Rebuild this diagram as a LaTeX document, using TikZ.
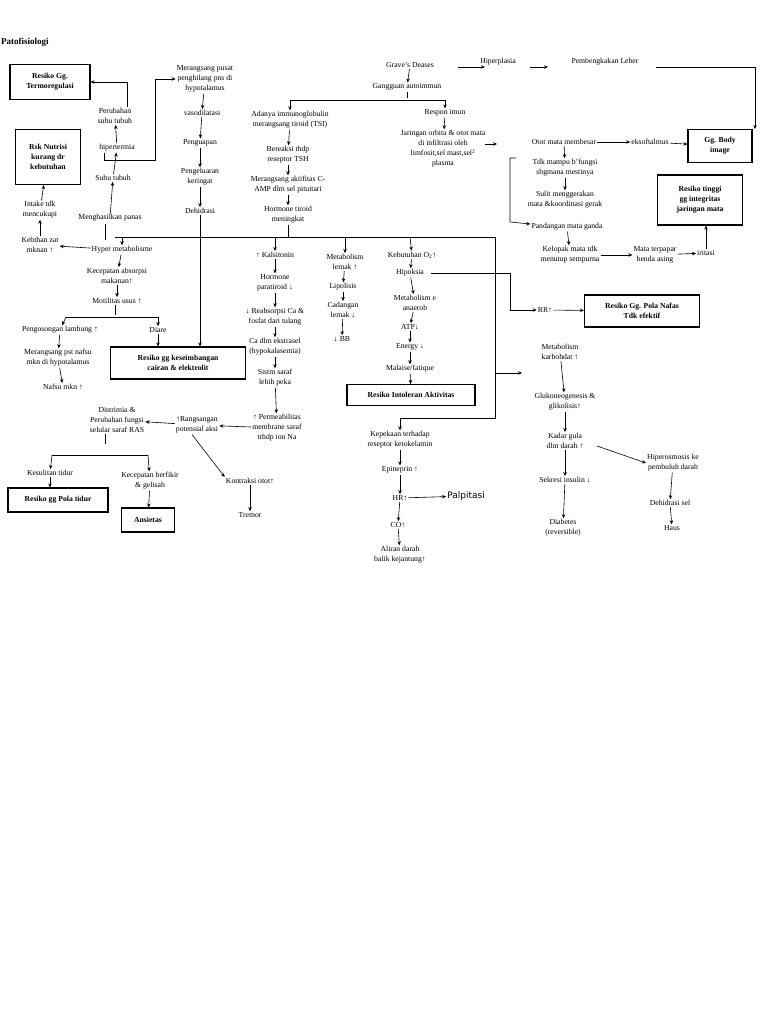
\documentclass[tikz,border=0pt]{standalone}
\usepackage{fontspec}
\setmainfont{Liberation Serif}
\newfontfamily\palfont{DejaVu Sans}
\usetikzlibrary{arrows.meta}
\begin{document}
\begin{tikzpicture}[x=1pt,y=-1pt,
  t/.style={font=\fontsize{7.7}{10}\selectfont, align=center, inner sep=1pt},
  bx/.style={t, draw, line width=1.1pt, font=\fontsize{7.7}{10}\selectfont\bfseries, inner sep=3pt},
  arr/.style={-{Stealth[length=4pt,width=3.5pt]}, line width=0.6pt},
  ln/.style={line width=0.6pt}]
\useasboundingbox (0,0) rectangle (768,1024);
\node[t, anchor=west, font=\fontsize{9}{10}\selectfont\bfseries] (title) at (0,42) {Patofisiologi};
% left column
\node[bx, minimum width=80pt, minimum height=35pt] (b1) at (50,82) {Resiko Gg.\\Termoregulasi};
\node[t] (perub) at (115,116) {Perubahan\\suhu tubuh};
\node[t] (hiper) at (117,148) {hipertermia};
\node[t] (suhu) at (113,178) {Suhu tubuh};
\node[t] (panas) at (110,218) {Menghasilkan panas};
\node[bx, minimum width=65pt, minimum height=55pt] (b2) at (48,157) {Rsk Nutrisi\\kurang dr\\kebutuhan};
\node[t] (intake) at (40,210) {Intake tdk\\mencukupi};
\node[t] (kebth) at (40,245) {Kebthan zat\\mknan ↑};
\node[t] (hmet) at (122,250) {Hyper metabolisme};
\node[t] (kecep) at (117,276) {Kecepatan absorpsi\\makanan↑};
\node[t] (motil) at (117,301) {Motilitas usus ↑};
\node[t] (pengos) at (60,330) {Pengosongan lambung ↑};
\node[t] (diare) at (158,330) {Diare};
\node[t] (mrgpst) at (58,358) {Merangsang pst nafsu\\mkn di hypotalamus};
\node[t] (nafsu) at (63,387) {Nafsu mkn ↑};
\node[bx, minimum width=135pt, minimum height=32pt] (b3) at (178,363) {Resiko gg keseimbangan\\cairan \& elektrolit};
% column 2
\node[t] (mpusat) at (205,79) {Merangsang pusat\\penghilang pns di\\hypotalamus};
\node[t] (vaso) at (202,113) {vasodilatasi};
\node[t] (pengu) at (200,143) {Penguapan};
\node[t] (pkeri) at (200,177) {Pengeluaran\\keringat};
\node[t] (dehid) at (200,211) {Dehidrasi};
% centre top
\node[t] (grave) at (410,65) {Grave's Deases};
\node[t] (hpl) at (498,62) {Hiperplasia};
\node[t] (leher) at (605,62) {Pembengkakan Leher};
\node[t] (gang) at (407,87) {Gangguan autoimmun};
\node[t] (adanya) at (290,120) {Adanya immunoglobulin\\merangsang tiroid (TSI)};
\node[t] (respon) at (445,113) {Respon imun};
\node[t] (jar) at (443,149) {Jaringan orbita \& otot mata\\di infiltrasi oleh\\limfosit,sel mast,sel\textsuperscript{2}\\plasma};
\node[t] (bereaksi) at (288,155) {Bereaksi thdp\\reseptor TSH};
\node[t] (camp) at (288,185) {Merangsang aktifitas C-\\AMP dlm sel pituitari};
\node[t] (horm) at (288,215) {Hormone tiroid\\meningkat};
% kalsitonin column
\node[t] (kals) at (275,255) {↑ Kalsitonin};
\node[t] (para) at (275,283) {Hormone\\paratiroid ↓};
\node[t] (reabs) at (275,317) {↓ Reabsorpsi Ca \&\\fosfat dari tulang};
\node[t] (ca) at (275,347) {Ca dlm ekstrasel\\(hypokalasemia)};
\node[t] (sistm) at (275,378) {Sistm saraf\\lebih peka};
\node[t] (perm) at (277,428) {↑ Permeabilitas\\membrane saraf\\trhdp ion Na};
\node[t] (rang) at (197,425) {↑Rangsangan\\potensial aksi};
\node[t] (distr) at (117,420) {Distrimia \&\\Perubahan fungsi\\selular saraf RAS};
\node[t] (kontr) at (250,481) {Kontraksi otot↑};
\node[t] (tremor) at (250,515) {Tremor};
\node[t] (kesul) at (50,473) {Kesulitan tidur};
\node[t] (berf) at (150,481) {Kecepatan berfikir\\\& gelisah};
\node[bx, minimum width=100pt, minimum height=24pt] (b4) at (58,500) {Resiko gg Pola tidur};
\node[bx, minimum width=53pt, minimum height=24pt] (b5) at (148,520) {Ansietas};
% lemak column
\node[t] (lemak) at (345,262) {Metabolism\\lemak ↑};
\node[t] (lipo) at (343,287) {Lipolisis};
\node[t] (cad) at (343,310) {Cadangan\\lemak ↓};
\node[t] (bb) at (342,339) {↓ BB};
% O2 column
\node[t] (o2) at (412,255) {Kebutuhan O\textsubscript{2}↑};
\node[t] (hipok) at (410,273) {Hipoksia};
\node[t] (anae) at (415,303) {Metabolism e\\anaerob};
\node[t] (atp) at (410,327) {ATP↓};
\node[t] (energy) at (410,347) {Energy ↓};
\node[t] (mal) at (410,369) {Malaise/fatique};
\node[bx, minimum width=128pt, minimum height=21pt] (b6) at (411,395) {Resiko Intoleran Aktivitas};
\node[t] (rr) at (545,310) {RR↑};
\node[bx, minimum width=115pt, minimum height=32pt] (b7) at (642,311) {Resiko Gg. Pola Nafas\\Tdk efektif};
% eye column
\node[t] (otot) at (564,142) {Otot mata membesar};
\node[t] (eks) at (650,142) {eksoftalmus};
\node[bx, minimum width=64pt, minimum height=33pt] (b8) at (720,146) {Gg. Body\\image};
\node[t] (tdk) at (565,168) {Tdk mampu b'fungsi\\sbgmana mestinya};
\node[t] (sulit) at (565,200) {Sulit menggerakan\\mata \&koordinasi gerak};
\node[t] (pand) at (567,227) {Pandangan mata ganda};
\node[t] (kelo) at (570,255) {Kelopak mata tdk\\menutup sempurna};
\node[t] (terp) at (655,255) {Mata terpapar\\benda asing};
\node[t] (irit) at (706,253) {iritasi};
\node[bx, minimum width=85pt, minimum height=50pt] (b9) at (700,200) {Resiko tinggi\\gg integritas\\jaringan mata};
% carbohydrate column
\node[t] (karb) at (560,352) {Metabolism\\karbohdat ↑};
\node[t] (gluk) at (565,402) {Glukoneogenesis \&\\glikolisis↑};
\node[t] (kadar) at (565,441) {Kadar gula\\dlm darah ↑};
\node[t] (sekr) at (565,480) {Sekresi insulin ↓};
\node[t] (diab) at (563,528) {Diabetes\\(reversible)};
\node[t] (hipos) at (673,463) {Hiperosmosis ke\\pembuluh darah};
\node[t] (dsel) at (670,503) {Dehidrasi sel};
\node[t] (haus) at (672,528) {Haus};
% heart column
\node[t] (kepek) at (400,440) {Kepekaan terhadap\\reseptor ketokelamin};
\node[t] (epi) at (400,470) {Epineprin ↑};
\node[t] (hr) at (400,498) {HR↑};
\node[t, font=\fontsize{9}{10}\palfont] (palp) at (466,496) {Palpitasi};
\node[t] (co) at (398,525) {CO↑};
\node[t] (alir) at (400,555) {Aliran darah\\balik kejantung↑};
% bus coordinates
\coordinate (bL) at (115,237);
\coordinate (bR) at (495,237);
\coordinate (bD) at (495,418);
\coordinate (kD) at (400,418);
\coordinate (lr) at (755,67);
% ===== connectors =====
\draw[arr] (perub.north east) ++(-6,0) |- (b1.east);
\draw[arr] (suhu) -- (hiper);
\draw[arr] (hiper) -- (perub);
\draw[arr] (hiper.south west) ++(6,0) -- ++(0,8) -| (155,79) -- (mpusat.west |- 0,79);
\draw[arr] (panas) -- (suhu);
\draw[ln] (105,224) -- (105,240);
\draw[arr] (mpusat) -- (vaso);
\draw[arr] (vaso) -- (pengu);
\draw[arr] (pengu) -- (pkeri);
\draw[arr] (pkeri) -- (dehid);
\draw[arr] (dehid) -- (dehid |- b3.north);
\draw[arr] (kebth) -- (intake);
\draw[arr] (intake) -- (b2);
\draw[arr] (hmet) -- (kebth);
\draw[arr] (hmet) -- (kecep);
\draw[arr] (kecep) -- (motil);
\draw[ln] (motil.south) ++(-2,0) -- ++(0,10);
\draw[ln] (66,317) -- (158,317);
\draw[arr] (66,317) -- (pengos);
\draw[arr] (158,317) -- (diare);
\draw[arr] (diare) -- (diare |- b3.north);
\draw[arr] (pengos) -- (mrgpst);
\draw[arr] (mrgpst) -- (nafsu);
% graves
\draw[arr] (grave) -- (gang);
\draw[arr] (458,67) -- (485,67);
\draw[arr] (530,67) -- (548,67);
\draw[arr] (656,67) -- (lr) -- (lr |- b8.north);
\draw[ln] (gang.south) -- ++(0,6);
\draw[ln] (290,100) -- (445,100);
\draw[arr] (290,100) -- (adanya);
\draw[arr] (445,100) -- (respon);
\draw[arr] (respon) -- (jar);
\draw[arr] (485,144) -- (497,144);
\draw[arr] (adanya) -- (bereaksi);
\draw[arr] (bereaksi) -- (camp);
\draw[arr] (camp) -- (horm);
\draw[ln] (horm.south) -- (horm.south |- bL);
% main bus
\draw[ln] (bL) -- (bR) -- (bD) -- (kD);
\draw[arr] (kD) -- (kepek);
\draw[arr] (495,373) -- (522,373);
\draw[arr] (122,237) -- (hmet);
\draw[arr] (275,237) -- (kals);
\draw[arr] (345,237) -- (lemak);
\draw[arr] (410,237) -- (o2);
% kalsitonin
\draw[arr] (kals) -- (para);
\draw[arr] (para) -- (reabs);
\draw[arr] (reabs) -- (ca);
\draw[arr] (ca) -- (sistm);
\draw[arr] (sistm) -- (perm);
\draw[arr] (perm) -- (rang);
\draw[arr] (rang) -- (distr);
\draw[arr] (rang.south) ++(-5,0) -- (kontr.north west);
\draw[arr] (kontr) -- (tremor);
\draw[ln] (distr.south) ++(-12,0) -- ++(0,10);
\draw[ln] (52,455) -- (148,455);
\draw[arr] (52,455) -- (kesul);
\draw[arr] (148,455) -- (berf);
\draw[arr] (kesul) -- (kesul |- b4.north);
\draw[arr] (berf) -- (b5);
% lemak
\draw[arr] (lemak) -- (lipo);
\draw[arr] (lipo) -- (cad);
\draw[arr] (cad) -- (bb);
% O2
\draw[arr] (o2) -- (hipok);
\draw[arr] (hipok) -- (anae);
\draw[arr] (anae) -- (atp);
\draw[arr] (atp) -- (energy);
\draw[arr] (energy) -- (mal);
\draw[arr] (mal) -- (b6);
\draw[arr] (hipok.east) ++(6,0) -- (510,273) |- (rr);
\draw[arr] (rr) -- (b7);
% eye
\draw[arr] (otot) -- (eks);
\draw[arr] (eks) -- (b8);
\draw[arr] (otot) -- (tdk);
\draw[arr] (tdk) -- (sulit);
\draw[arr] (516,158) -- (510,158) -- (510,222) -- (pand.west |- 0,224);
\draw[arr] (pand) -- (kelo);
\draw[arr] (kelo) -- (terp);
\draw[arr] (terp) -- (irit);
\draw[arr] (irit) -- (irit |- b9.south);
% carb
\draw[arr] (karb) -- (gluk);
\draw[arr] (gluk) -- (kadar);
\draw[arr] (kadar) -- (sekr);
\draw[arr] (sekr) -- (diab);
\draw[arr] (597,446) -- (hipos.west);
\draw[arr] (hipos) -- (dsel);
\draw[arr] (dsel) -- (haus);
% heart
\draw[arr] (kepek) -- (epi);
\draw[arr] (epi) -- (hr);
\draw[arr] (hr) -- (palp);
\draw[arr] (hr) -- (co);
\draw[arr] (co) -- (alir);
\end{tikzpicture}
\end{document}
